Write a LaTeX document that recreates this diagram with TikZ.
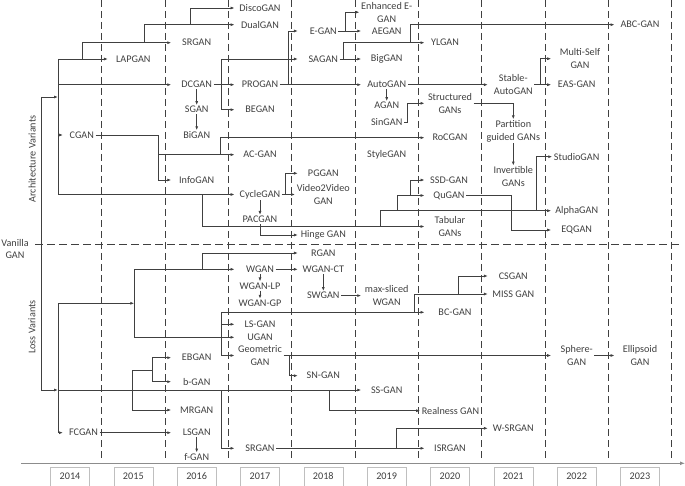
\documentclass[tikz,border=0pt]{standalone}
\usepackage{fontspec}
\setmainfont{Carlito}
\usetikzlibrary{arrows.meta}

\definecolor{ink}{HTML}{404040}
\definecolor{axisGray}{HTML}{8C8C8C}
\definecolor{boxGray}{HTML}{BFBFBF}

\begin{document}
\begin{tikzpicture}
    [x = 1pt, y = -1pt,
     >= {Latex[length = 4pt, width = 3pt]},
     ganNode/.style = {inner xsep = 1.5pt, inner ysep = 1pt, align = center,
                       text = ink, font = \fontsize{10.2}{12.7}\selectfont},
     sideLabel/.style = {rotate = 90, inner sep = 0pt, text = ink,
                         font = \fontsize{10.2}{12.7}\selectfont},
     yearBox/.style = {draw = boxGray, fill = white, minimum width = 39pt,
                       minimum height = 19pt, inner sep = 0pt, text = ink,
                       font = \fontsize{10.2}{12.7}\selectfont},
     yearLine/.style = {ink, line width = 0.8pt,
                        dash pattern = on 7pt off 4pt},
     splitLine/.style = {ink, line width = 1.1pt,
                         dash pattern = on 8pt off 4pt},
     timeAxis/.style = {axisGray, line width = 1.5pt,
                        -{Latex[length = 5pt, width = 4pt]}},
     link/.style = {ink, line width = 0.8pt}]

    \useasboundingbox (0,0) rectangle (685,486);

    \foreach \yr [count = \k from 0] in {2014,...,2023} {
      \draw [yearLine] (101.7+63.33*\k,0) -- (101.7+63.33*\k,458);
      \node at (70+63.33*\k,476.5) [yearBox] (y\yr) {\yr};
    }
    \coordinate (in2014) at (63,0);
    \foreach \yr [count = \k] in {2015,...,2023}
      \coordinate (in\yr) at (44.6+63.33*\k,0);

    \draw [splitLine] (35,244.3) -- (682,244.3);
    \draw [timeAxis] (21,463.3) -- (685,463.3);

    \node at (15,249)  [ganNode]   (vanilla) {Vanilla\\GAN};
    \node at (32,159)  [sideLabel] (archLabel) {Architecture Variants};
    \node at (32,327)  [sideLabel] (lossLabel) {Loss Variants};

    \node at (133.3,59)   [ganNode] (LAPGAN)   {LAPGAN};
    \node at (81.8,135)   [ganNode] (CGAN)     {CGAN};
    \node at (196.7,42.7) [ganNode] (SRGAN)    {SRGAN};
    \node at (196.7,84.7) [ganNode] (DCGAN)    {DCGAN};
    \node at (196.7,109.7)[ganNode] (SGAN)     {SGAN};
    \node at (196.7,135)  [ganNode] (BiGAN)    {BiGAN};
    \node at (196.7,180)  [ganNode] (InfoGAN)  {InfoGAN};
    \node at (260,8)      [ganNode] (DiscoGAN) {DiscoGAN};
    \node at (260,24.7)   [ganNode] (DualGAN)  {DualGAN};
    \node at (260,84.7)   [ganNode] (PROGAN)   {PROGAN};
    \node at (260,109.7)  [ganNode] (BEGAN)    {BEGAN};
    \node at (260,154.7)  [ganNode] (ACGAN)    {AC-GAN};
    \node at (260,194.5)  [ganNode] (CycleGAN) {CycleGAN};
    \node at (260,219.5)  [ganNode] (PACGAN)   {PACGAN};
    \node at (323.3,31)   [ganNode] (EGAN)     {E-GAN};
    \node at (323.3,59)   [ganNode] (SAGAN)    {SAGAN};
    \node at (323.3,173.3)[ganNode] (PGGAN)    {PGGAN};
    \node at (323.3,194.5)[ganNode] (Video2Video) {Video2Video\\GAN};
    \node at (323.3,235)  [ganNode] (HingeGAN) {Hinge GAN};
    \node at (386.7,12.2) [ganNode] (EnhancedEGAN) {Enhanced E-\\GAN};
    \node at (386.7,31)   [ganNode] (AEGAN)    {AEGAN};
    \node at (386.7,59)   [ganNode] (BigGAN)   {BigGAN};
    \node at (386.7,84.7) [ganNode] (AutoGAN)  {AutoGAN};
    \node at (386.7,105.7)[ganNode] (AGAN)     {AGAN};
    \node at (386.7,122)  [ganNode] (SinGAN)   {SinGAN};
    \node at (386.7,154.5)[ganNode] (StyleGAN) {StyleGAN};
    \node at (445,42.7)   [ganNode] (YLGAN)    {YLGAN};
    \node at (450,103.3)  [ganNode] (StructuredGANs) {Structured\\GANs};
    \node at (450,137.7)  [ganNode] (RoCGAN)   {RoCGAN};
    \node at (449,180)    [ganNode] (SSDGAN)   {SSD-GAN};
    \node at (449,195.5)  [ganNode] (QuGAN)    {QuGAN};
    \node at (450,226.5)  [ganNode] (TabularGANs) {Tabular\\GANs};
    \node at (513.3,84.7) [ganNode] (StableAutoGAN) {Stable-\\AutoGAN};
    \node at (513.3,131.3)[ganNode] (PartitionGANs) {Partition\\guided GANs};
    \node at (513.3,176.7)[ganNode] (InvertibleGANs) {Invertible\\GANs};
    \node at (580,58.7)   [ganNode] (MultiSelfGAN) {Multi-Self\\GAN};
    \node at (576.7,84.7) [ganNode] (EASGAN)   {EAS-GAN};
    \node at (576.7,156.7)[ganNode] (StudioGAN){StudioGAN};
    \node at (576.7,210.7)[ganNode] (AlphaGAN) {AlphaGAN};
    \node at (576.7,230)  [ganNode] (EQGAN)    {EQGAN};
    \node at (640,24.7)   [ganNode] (ABCGAN)   {ABC-GAN};

    \node at (83.5,432.7) [ganNode] (FCGAN)    {FCGAN};
    \node at (196.7,357.7)[ganNode] (EBGAN)    {EBGAN};
    \node at (196.7,381.7)[ganNode] (bGAN)     {b-GAN};
    \node at (196.7,410)  [ganNode] (MRGAN)    {MRGAN};
    \node at (196.7,432.7)[ganNode] (LSGAN)    {LSGAN};
    \node at (196.7,457.3)[ganNode] (fGAN)     {f-GAN};
    \node at (260,269.3)  [ganNode] (WGAN)     {WGAN};
    \node at (260,286)    [ganNode] (WGANLP)   {WGAN-LP};
    \node at (260,303.3)  [ganNode] (WGANGP)   {WGAN-GP};
    \node at (260,324.3)  [ganNode] (LSGANdash){LS-GAN};
    \node at (260,337.3)  [ganNode] (UGAN)     {UGAN};
    \node at (260,355.5)  [ganNode] (GeometricGAN) {Geometric\\GAN};
    \node at (260,448.3)  [ganNode] (SRGANloss){SRGAN};
    \node at (323.3,253)  [ganNode] (RGAN)     {RGAN};
    \node at (323.3,269.3)[ganNode] (WGANCT)   {WGAN-CT};
    \node at (323.3,295.6)[ganNode] (SWGAN)    {SWGAN};
    \node at (323.3,375.7)[ganNode] (SNGAN)    {SN-GAN};
    \node at (386.7,295.6)[ganNode] (maxSlicedWGAN) {max-sliced\\WGAN};
    \node at (386.7,390)  [ganNode] (SSGAN)    {SS-GAN};
    \node at (455,312.3)  [ganNode] (BCGAN)    {BC-GAN};
    \node at (450.5,410.7)[ganNode] (RealnessGAN) {Realness GAN};
    \node at (450,448.3)  [ganNode] (ISRGAN)   {ISRGAN};
    \node at (513.3,276)  [ganNode] (CSGAN)    {CSGAN};
    \node at (513.3,294)  [ganNode] (MISSGAN)  {MISS GAN};
    \node at (513.3,428.3)[ganNode] (WSRGAN)   {W-SRGAN};
    \node at (576.7,355.5)[ganNode] (SphereGAN){Sphere-\\GAN};
    \node at (640,355.5)  [ganNode] (EllipsoidGAN) {Ellipsoid\\GAN};

    \coordinate (archRoot) at (41,97);
    \coordinate (lossRoot) at (41,390);
    \coordinate (archTop)  at (58,59);
    \coordinate (archBot)  at (58,194.5);
    \coordinate (lossTop)  at (58,303.3);
    \coordinate (lossBot)  at (58,432.7);

    \coordinate (jSR)     at (82.7,59);
    \coordinate (jDual)   at (144,42.7);
    \coordinate (jDisco)  at (190,24.7);
    \coordinate (jCG)     at (158,135);
    \coordinate (jRoC)    at (220,154.7);
    \coordinate (jDC)     at (221.7,84.7);
    \coordinate (jEG)     at (288.3,84.7);
    \coordinate (jEnh)    at (345.7,31);
    \coordinate (jYL)     at (343.3,59);
    \coordinate (jABC)    at (410.7,42.7);
    \coordinate (jSin)    at (407.7,110);
    \coordinate (jMS)     at (540,84.7);
    \coordinate (jPG)     at (285,194.5);
    \coordinate (jTab)    at (202.7,194.5);
    \coordinate (jAlpha)  at (380,226.5);
    \coordinate (jQu)     at (397,210.7);
    \coordinate (jSSD)    at (410,195.5);
    \coordinate (jStudio) at (536,210.7);
    \coordinate (jEQ)     at (511.7,215);

    \coordinate (wTop)    at (134.3,269.3);
    \coordinate (wBot)    at (134.3,337.3);
    \coordinate (jR)      at (202.7,269.3);
    \coordinate (lsTop)   at (221.7,312.3);
    \coordinate (lsBot)   at (221.7,355.5);
    \coordinate (jBC)     at (414.3,312.3);
    \coordinate (jCS)     at (458.3,294);
    \coordinate (jSN)     at (289.3,355.5);
    \coordinate (jReal)   at (329,390);
    \coordinate (jMR)     at (132.3,370.7);
    \coordinate (jEB)     at (152.7,370.7);
    \coordinate (jSRl)    at (221.7,390);
    \coordinate (jWS)     at (396,448.3);

    \draw [link] (archRoot) -- (lossRoot);
    \draw [link, ->] (archRoot) -- (archRoot -| archTop);
    \draw [link] (archTop) -- (archBot);
    \draw [link, ->] (archTop) -- (LAPGAN -| in2015);
    \draw [link, ->] (jSR) |- (SRGAN -| in2016);
    \draw [link, ->] (jDual) |- (DualGAN -| in2017);
    \draw [link, ->] (jDisco) |- (DiscoGAN -| in2017);
    \draw [link, ->] (archTop |- DCGAN) -- (DCGAN -| in2016);
    \draw [link, ->] (archTop |- CGAN) -- (CGAN -| in2014);
    \draw [link, ->] (archBot) -- (CycleGAN -| in2017);

    \draw [link, ->] (CGAN.east) -- (jCG) |- (InfoGAN -| in2016);
    \draw [link, ->] (jCG |- ACGAN) -- (ACGAN -| in2017);
    \draw [link, ->] (jRoC) |- (RoCGAN -| in2020);
    \draw [link, ->] (DCGAN) -- (SGAN);
    \draw [link, ->] (SGAN) -- (BiGAN);
    \draw [link, ->] (DCGAN.east) -- (PROGAN -| in2017);
    \draw [link, <->] (SAGAN -| in2018) -| (jDC) |- (BEGAN -| in2017);
    \draw [link, ->] (PROGAN.east) -- (AutoGAN -| in2019);
    \draw [link, ->] (jEG) |- (EGAN -| in2018);
    \draw [link, ->] (EGAN.east) -- (AEGAN -| in2019);
    \draw [link, ->] (jEnh) |- (EnhancedEGAN.west);
    \draw [link, ->] (SAGAN.east) -- (BigGAN -| in2019);
    \draw [link, ->] (jYL) |- (YLGAN -| in2020);
    \draw [link, ->] (jABC) |- (ABCGAN -| in2023);
    \draw [link, ->] (AutoGAN) -- (AGAN);
    \draw [link, ->] (AutoGAN.east) -- (StableAutoGAN -| in2021);
    \draw [link, ->] (SinGAN.east) -| (jSin) |- (StructuredGANs -| in2020);
    \draw [link, ->] (StructuredGANs.east) -| (PartitionGANs.north);
    \draw [link, ->] (PartitionGANs.south)
                     -- (PartitionGANs.south |- InvertibleGANs.north);
    \draw [link, ->] (StableAutoGAN.east) -- (EASGAN -| in2022);
    \draw [link, ->] (jMS) |- (MultiSelfGAN -| in2022);

    \draw [link, ->] (CycleGAN.east) -- (Video2Video.west);
    \draw [link, ->] (jPG) |- (PGGAN -| in2018);
    \draw [link, ->] (CycleGAN) -- (PACGAN);
    \draw [link, ->] (PACGAN.south) |- (HingeGAN -| in2018);
    \draw [link, ->] (jTab) |- (TabularGANs -| in2020);
    \draw [link, ->] (jAlpha) |- (AlphaGAN -| in2022);
    \draw [link, ->] (jQu) |- (QuGAN -| in2020);
    \draw [link, ->] (jSSD) |- (SSDGAN -| in2020);
    \draw [link, ->] (jStudio) |- (StudioGAN.west);
    \draw [link, ->] (QuGAN.east) -| (jEQ) |- (EQGAN -| in2022);

    \draw [link, ->] (lossRoot) -- (lossRoot -| lossTop);
    \draw [link] (lossTop) -- (lossBot);
    \draw [link, ->] (lossRoot -| lossTop) -- (SSGAN -| in2019);
    \draw [link, ->] (jReal) |- (RealnessGAN.west);
    \draw [link, ->] (lossTop) -- (lossTop -| wTop);
    \draw [link] (wTop) -- (wBot);
    \draw [link, ->] (wTop) -- (WGAN -| in2017);
    \draw [link, ->] (wBot) -- (UGAN -| in2017);
    \draw [link, ->] (jR) |- (RGAN -| in2018);
    \draw [link, ->] (WGAN.east) -- (WGANCT -| in2018);
    \draw [link, ->] (WGAN) -- (WGANLP);
    \draw [link, ->] (WGANLP) -- (WGANGP);
    \draw [link, ->] (WGANCT) -- (SWGAN);
    \draw [link, ->] (SWGAN.east) -- (maxSlicedWGAN -| in2019);

    \draw [link] (lsTop) -- (lsBot);
    \draw [link, ->] (lsTop |- LSGANdash) -- (LSGANdash -| in2017);
    \draw [link, ->] (lsBot) -- (GeometricGAN -| in2017);
    \draw [link, ->] (lsTop) -- (BCGAN -| in2020);
    \draw [link, ->] (jBC) |- (MISSGAN -| in2021);
    \draw [link, ->] (jCS) |- (CSGAN -| in2021);
    \draw [link, ->] (GeometricGAN.east) -- (SphereGAN -| in2022);
    \draw [link, ->] (jSN) |- (SNGAN -| in2018);
    \draw [link, ->] (SphereGAN.east) -- (EllipsoidGAN -| in2023);

    \draw [link, ->] (jMR) |- (MRGAN -| in2016);
    \draw [link] (jMR) -- (jEB);
    \draw [link, <->] (EBGAN -| in2016) -| (jEB) |- (bGAN -| in2016);
    \draw [link, ->] (lossBot) -- (FCGAN -| in2014);
    \draw [link, ->] (FCGAN.east) -- (LSGAN -| in2016);
    \draw [link, ->] (LSGAN) -- (fGAN);
    \draw [link, ->] (jSRl) |- (SRGANloss -| in2017);
    \draw [link, ->] (SRGANloss.east) -- (ISRGAN -| in2020);
    \draw [link, ->] (jWS) |- (WSRGAN -| in2021);
  \end{tikzpicture}
\end{document}
